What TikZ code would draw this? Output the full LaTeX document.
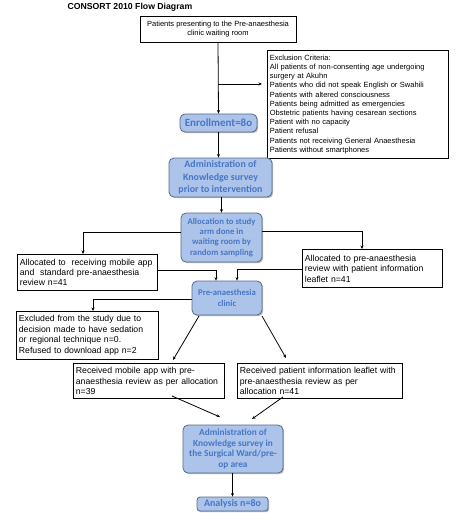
\documentclass[tikz,border=0pt]{standalone}
\usepackage{fontspec}
\setmainfont{Liberation Sans}
\newfontfamily\calfont{Carlito}
\usetikzlibrary{arrows.meta,shadows}
\definecolor{bfill}{RGB}{172,196,234}
\definecolor{bdraw}{RGB}{85,105,140}
\definecolor{btext}{RGB}{72,118,196}
\begin{document}
\begin{tikzpicture}[x=1pt,y=-1pt,
  box/.style={draw, line width=0.8pt, fill=white, inner sep=2.5pt, align=left,
    font=\fontsize{7.5}{9.2}\selectfont},
  tbox/.style={box, font=\fontsize{8.7}{10.5}\selectfont},
  bbox/.style={draw=bdraw, line width=0.8pt, fill=bfill, rounded corners=5pt, text=btext,
    align=center, inner sep=1pt,
    drop shadow={shadow xshift=1.2pt, shadow yshift=-1.2pt, fill=black!45, opacity=0.6}},
  arr/.style={-{Stealth[length=3.5pt,width=3pt]}, line width=0.8pt}]
\useasboundingbox (0,0) rectangle (474,513);

\node[anchor=west, font=\bfseries\fontsize{8.7}{10}\selectfont] (title) at (64,7) {CONSORT 2010 Flow Diagram};

\node[box, align=center, minimum width=156pt, minimum height=26pt, font=\fontsize{7.5}{8.6}\selectfont] (b1) at (218,29)
  {Patients presenting to the Pre-anaesthesia\\clinic waiting room};

\node[box, anchor=north west, text width=176pt, minimum height=108pt] (excl) at (267,50)
  {Exclusion Criteria:\\
   All patients of non-consenting age undergoing\\
   surgery at Akuhn\\
   Patients who did not speak English or Swahili\\
   Patients with altered consciousness\\
   Patients being admitted as emergencies\\
   Obstetric patients having cesarean sections\\
   Patient with no capacity\\
   Patient refusal\\
   Patients not receiving General Anaesthesia\\
   Patients without smartphones};

\node[bbox, minimum width=77pt, minimum height=18pt, font=\calfont\bfseries\fontsize{11}{12}\selectfont] (enr) at (218.5,123) {Enrollment=8o};

\node[bbox, minimum width=103pt, minimum height=39pt, font=\calfont\bfseries\fontsize{9.9}{12.3}\selectfont] (adm) at (220.5,177.5)
  {Administration of\\Knowledge survey\\prior to intervention};

\node[bbox, minimum width=81pt, minimum height=49pt, font=\calfont\bfseries\fontsize{8.7}{10.3}\selectfont] (alloc) at (221.5,237.5)
  {Allocation to study\\arm done in\\waiting room by\\random sampling};

\node[tbox, anchor=north west, text width=135pt, minimum height=36pt, font=\fontsize{8.7}{10}\selectfont] (al) at (17,254)
  {Allocated to\ \ receiving mobile app\\and\ \ standard pre-anaesthesia\\review n=41};

\node[tbox, anchor=north west, text width=135pt, minimum height=38pt] (ar) at (302,249)
  {Allocated to pre-anaesthesia\\review with patient information\\leaflet n=41};

\node[bbox, minimum width=70pt, minimum height=34pt, font=\calfont\bfseries\fontsize{8.7}{10.7}\selectfont] (clin) at (227,298)
  {Pre-anaesthesia\\clinic};

\node[tbox, anchor=north west, text width=137pt, minimum height=48pt] (exd) at (16,311)
  {Excluded from the study due to\\decision made to have sedation\\or regional technique n=0.\\Refused to download app n=2};

\node[tbox, anchor=north west, text width=146pt, minimum height=35pt] (rl) at (73,363)
  {Received mobile app with pre-\\anaesthesia review as per allocation\\n=39};

\node[tbox, anchor=north west, text width=160pt, minimum height=35pt] (rr) at (237,363)
  {Received patient information leaflet with\\pre-anaesthesia review as per\\allocation n=41};

\node[bbox, minimum width=100pt, minimum height=48pt, font=\calfont\bfseries\fontsize{9.3}{10.6}\selectfont] (adm2) at (233,449)
  {Administration of\\Knowledge survey in\\the Surgical Ward/pre-\\op area};

\node[bbox, rounded corners=3pt, minimum width=71pt, minimum height=14pt, font=\calfont\bfseries\fontsize{10}{10}\selectfont] (ana) at (232.5,504)
  {Analysis n=8o};

% connectors
\coordinate (j1) at (218,84);
\draw[arr] (b1.south) -- (enr.north);
\draw[arr] (j1) -- ([xshift=-5pt]j1 -| excl.west);
\draw[arr] (enr.south) -- (enr.south |- adm.north);
\draw[arr] (alloc.north |- adm.south) -- (alloc.north);

\coordinate (cl) at (83,232);
\draw[arr] (cl -| alloc.west) -- (cl) -- (cl |- al.north);
\coordinate (cr) at (362,231);
\draw[arr] (cr -| alloc.east) -- (cr) -- (cr |- ar.north);

\coordinate (c1) at (216,270);
\draw[arr] (c1 -| al.east) -- (c1) -- (c1 |- clin.north);
\coordinate (c2) at (237,269);
\draw[arr] (c2 -| ar.west) -- (c2) -- (c2 |- clin.north);

\coordinate (c3) at (93,299);
\draw[arr] (c3 -| clin.west) -- (c3) -- (c3 |- exd.north);

\coordinate (s1) at (199,316);
\coordinate (e1) at (173,360);
\draw[arr] (s1) -- (e1);
\coordinate (s2) at (262,316);
\coordinate (e2) at (286,358);
\draw[arr] (s2) -- (e2);

\coordinate (s3) at (172,396);
\coordinate (e3) at (220,417);
\draw[arr] (s3) -- (e3);
\coordinate (s4) at (283,397);
\coordinate (e4) at (252,419);
\draw[arr] (s4) -- (e4);

\draw[arr] (ana.north |- adm2.south) -- (ana.north);
\end{tikzpicture}
\end{document}
